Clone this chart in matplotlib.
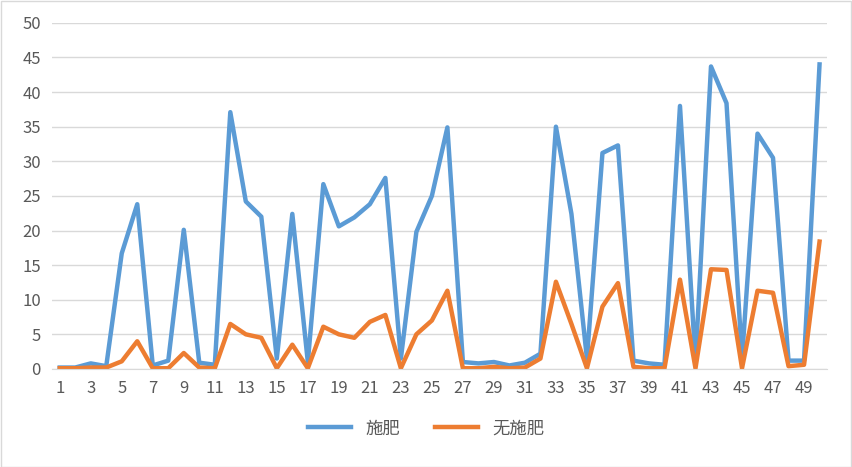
import numpy as np
import matplotlib.pyplot as plt

plt.rcParams['font.family'] = ['Noto Sans CJK SC', 'DejaVu Sans']

dias = np.arange(1, 51)
shifei = [0.2, 0.2, 0.8, 0.4, 16.7, 23.8, 0.5, 1.2, 20.1, 0.9,
          0.6, 37.1, 24.2, 22.0, 1.5, 22.4, 1.0, 26.7, 20.6, 21.9,
          23.8, 27.6, 1.5, 19.8, 25.0, 34.9, 1.0, 0.8, 1.0, 0.5,
          0.9, 2.2, 35.0, 22.4, 1.5, 31.2, 32.3, 1.2, 0.8, 0.6,
          38.0, 1.0, 43.7, 38.4, 1.5, 34.0, 30.5, 1.2, 1.2, 44.0]
wushifei = [0.1, 0.1, 0.2, 0.2, 1.1, 4.0, 0.1, 0.1, 2.3, 0.2,
            0.1, 6.5, 5.0, 4.5, 0.1, 3.5, 0.1, 6.1, 5.0, 4.5,
            6.8, 7.8, 0.1, 5.0, 7.0, 11.3, 0.1, 0.1, 0.3, 0.1,
            0.2, 1.5, 12.6, 6.5, 0.1, 9.0, 12.4, 0.3, 0.1, 0.1,
            12.9, 0.1, 14.4, 14.3, 0.1, 11.3, 11.0, 0.4, 0.6, 18.4]

fig = plt.figure(figsize=(8.52, 4.67), dpi=100)
ax = fig.add_axes([0.061, 0.21, 0.91, 0.741])

ax.plot(dias, shifei, color='#5b9bd5', lw=3.2, label='施肥')
ax.plot(dias, wushifei, color='#ed7d31', lw=3.2, label='无施肥')

ax.set_xlim(0.5, 50.5)
ax.set_ylim(0, 50)
ax.set_yticks(range(0, 51, 5))
ax.set_xticks(range(1, 51, 2))
ax.grid(axis='y', color='#d9d9d9', lw=1)
ax.set_axisbelow(True)
for s in ['top', 'right', 'left']:
    ax.spines[s].set_visible(False)
ax.spines['bottom'].set_color('#d9d9d9')
ax.tick_params(length=0, labelsize=12, colors='#595959', pad=8)

fig.legend(loc='lower center', bbox_to_anchor=(0.5, 0.03), ncol=2, frameon=False,
           fontsize=12.5, labelcolor='#595959', handlelength=2.5)

# marco gris de la figura
fig.patches.append(plt.Rectangle((0.001, 0.001), 0.998, 0.997, transform=fig.transFigure,
                                 fill=False, edgecolor='#d9d9d9', lw=1))

fig.savefig('out.png')
